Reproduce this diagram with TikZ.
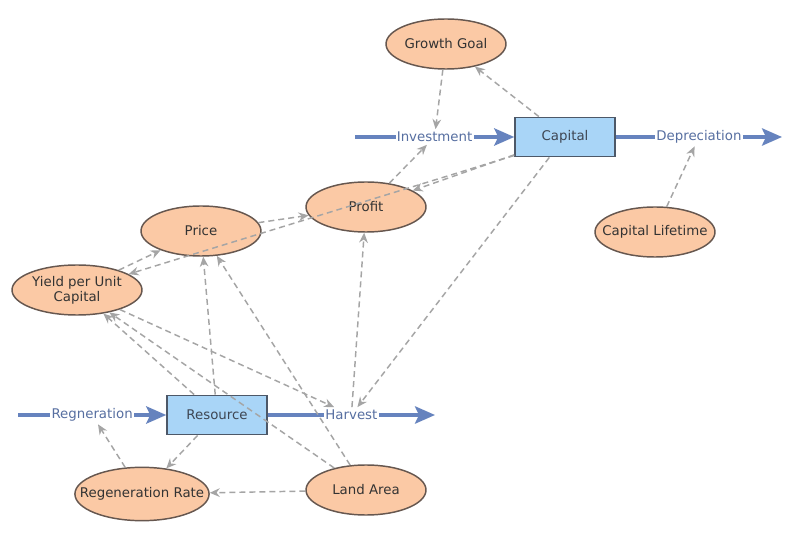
\documentclass[tikz,border=0pt]{standalone}
\usepackage{fontspec}
\setmainfont{DejaVu Sans}
\usetikzlibrary{shapes.geometric,arrows.meta}
\definecolor{peach}{HTML}{FBC9A5}
\definecolor{stockblue}{HTML}{A9D5F7}
\definecolor{flowblue}{HTML}{6683BE}
\definecolor{linkgray}{HTML}{A5A5A5}
\definecolor{edgebrown}{HTML}{66574F}
\definecolor{edgeblue}{HTML}{4D5868}
\tikzset{
  aux/.style={ellipse,draw=edgebrown,line width=1.1pt,fill=peach,minimum width=90pt,minimum height=37.5pt,inner xsep=-11pt,inner ysep=0pt,text=black!80,font=\fontsize{10}{11.5}\selectfont},
  stock/.style={rectangle,draw=edgeblue,line width=1.2pt,fill=stockblue,minimum width=75pt,minimum height=29.5pt,text=edgeblue!80!black,font=\fontsize{10}{11.5}\selectfont},
  flow/.style={line width=2.4pt,draw=flowblue,-{Stealth[length=15pt,width=13pt,inset=3pt]}},
  flowlabel/.style={fill=white,inner sep=1pt,text=flowblue!85!black,font=\fontsize{10}{11.5}\selectfont},
  link/.style={linkgray,line width=1.1pt,dash pattern=on 4.5pt off 3pt,-{Stealth[length=7.5pt,width=6.5pt]}}
}
\begin{document}
\begin{tikzpicture}[x=0.75pt,y=-0.75pt]
        \fill[white] (0,0) rectangle (800,545);
        \useasboundingbox (0,0) rectangle (800,545);
        \node[stock] (cap) at (565,137) {Capital};
        \node[stock] (res) at (217,415) {Resource};
        \node[aux] (gg) at (446,44) {Growth Goal};
        \node[aux] (cl) at (655,232) {Capital Lifetime};
        \node[aux] (pro) at (366,207) {Profit};
        \node[aux] (pri) at (201,231) {Price};
        \node[aux,minimum width=97.5pt,align=center] (yld) at (77,290) {Yield per Unit\\Capital};
        \node[aux,minimum width=97.5pt,minimum height=40pt] (rr) at (142,494) {Regeneration Rate};
        \node[aux] (la) at (366,490) {Land Area};
        \coordinate (invsrc) at (355,137);
        \coordinate (depsnk) at (782,137);
        \coordinate (regsrc) at (18,415);
        \coordinate (hrvsnk) at (435,415);
        \draw[flow] (invsrc) -- node[flowlabel] (inv) {Investment} (cap.west);
        \draw[flow] (cap.east) -- node[flowlabel] (dep) {Depreciation} (depsnk);
        \draw[flow] (regsrc) -- node[flowlabel] (reg) {Regneration} (res.west);
        \draw[flow] (res.east) -- node[flowlabel] (hrv) {Harvest} (hrvsnk);
        \draw[link] (cap) -- (gg);
        \draw[link] (gg) -- (inv);
        \draw[link] (pro) -- (inv);
        \draw[link] (cap) -- (pro);
        \draw[link] (cap.200) -- (yld);
        \draw[link] (cap) -- (hrv);
        \draw[link] (pri) -- (pro);
        \draw[link] (yld) -- (pri);
        \draw[link] (yld) -- (hrv);
        \draw[link] (hrv) -- (pro);
        \draw[link] (res) -- (pri);
        \draw[link] (res) -- (yld);
        \draw[link] (res) -- (rr);
        \draw[link] (la) -- (pri);
        \draw[link] (la) -- (yld);
        \draw[link] (la) -- (rr);
        \draw[link] (rr) -- (reg);
        \draw[link] (cl) -- (dep);
\end{tikzpicture}
\end{document}
